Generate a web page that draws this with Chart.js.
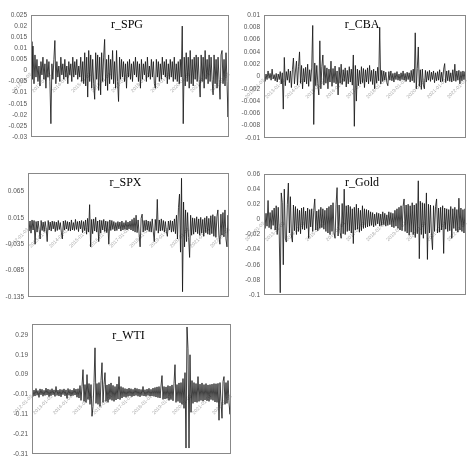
<!DOCTYPE html>
<html>
<head>
<meta charset="utf-8">
<script src="https://cdn.jsdelivr.net/npm/chart.js@4.4.1/dist/chart.umd.min.js"></script>
<style>
  html, body { margin: 0; padding: 0; background: #fff; }
  #page { position: relative; width: 474px; height: 465px; overflow: hidden; }
  .panel { position: absolute; }
</style>
</head>
<body>
<div id="page">
  <div class="panel" id="p-spg"><canvas id="c-spg"></canvas></div>
  <div class="panel" id="p-cba"><canvas id="c-cba"></canvas></div>
  <div class="panel" id="p-spx"><canvas id="c-spx"></canvas></div>
  <div class="panel" id="p-gold"><canvas id="c-gold"></canvas></div>
  <div class="panel" id="p-wti"><canvas id="c-wti"></canvas></div>
</div>
<script>
// date labels along the zero line (yearly)
const dateTicks = ['2012-01-03', '2013-01-02', '2014-01-02', '2015-01-02', '2016-01-04', '2017-01-03',
  '2018-01-02', '2019-01-02', '2020-01-02', '2021-01-04', '2022-01-03'];

// y-axis tick labels per panel
const spgTicks = [0.025, 0.02, 0.015, 0.01, 0.005, 0, -0.005, -0.01, -0.015, -0.02, -0.025, -0.03];
const cbaTicks = [0.01, 0.008, 0.006, 0.004, 0.002, 0, -0.002, -0.004, -0.006, -0.008, -0.01];
const spxTicks = [0.065, 0.015, -0.035, -0.085, -0.135];
const goldTicks = [0.06, 0.04, 0.02, 0, -0.02, -0.04, -0.06, -0.08, -0.1];
const wtiTicks = [0.29, 0.19, 0.09, -0.01, -0.11, -0.21, -0.31];

const rSPG = [
  .013, -.004, .011, -.006, .007, -.003, .005, -.005, .002, -.007, .004, -.002, .006, -.004, .003, -.008, .005, -.003, .004, -.005,
  -.024, .003, -.004, .005, .0135, -.006, .004, -.003, .002, -.005, .006, -.002, .003, -.004, .005, -.003, .002, -.006, .004, -.002,
  .003, -.005, .006, -.003, .004, -.002, .005, -.004, .002, -.003, .006, -.005, .004, -.006, .008, -.007, .006, -.012, .009, -.005,
  .007, -.008, .005, -.006, -.013, .008, -.004, .007, -.009, .006, -.011, .008, -.005, .006, .014, -.007, .005, -.009, .007, -.006,
  .005, -.004, .009, -.006, .004, -.008, .009, -.005, -.014, .006, -.004, .005, -.003, .004, -.005, .003, -.008, .004, -.003, .005,
  -.004, .003, -.005, .004, -.002, .006, -.003, .004, -.005, .003, -.008, .005, -.004, .003, -.002, .004, -.005, .006, -.003, .002,
  -.004, .005, -.003, .004, -.006, -.008, .005, -.003, .004, -.005, .003, -.004, .006, -.002, .004, -.003, .005, -.006, .003, -.004,
  .005, -.003, .004, -.005, .006, -.004, .003, -.005, .004, -.006, .005, -.003, .020, -.024, .006, -.007, .008, -.005, .006, -.008,
  .009, -.006, .005, -.007, .006, -.004, .007, -.005, .006, -.004, -.012, .007, -.005, .006, -.008, .009, -.004, .005, -.006, .007,
  -.005, .006, -.004, -.011, .007, -.006, .005, -.008, .006, -.004, -.013, .007, .009, -.006, .005, -.007, .008, -.005, -.021, .008
];
const rCBA = [
  .0006, -.0008, .0004, -.0005, .0009, -.0003, .0005, -.0006, .0012, -.0004, .0003, -.0007, .0005, -.0009, .0004, -.0005, .0008, -.0012, .0006, -.0053,
  .0031, -.0015, .0008, -.0006, .0012, -.0010, .0009, -.0018, .0011, .0030, -.0012, .0009, .0025, -.0014, .0016, .0040, -.0011, .0018, -.0020, .0013,
  -.0009, .0015, -.0012, .0020, -.0016, .0011, -.0008, .0014, .0083, -.0078, .0022, -.0015, .0018, -.0012, -.0030, .0058, -.0020, .0016, .0035, -.0014,
  .0018, -.0011, .0014, -.0020, .0012, -.0009, .0025, -.0016, .0013, -.0010, .0017, -.0012, .0009, -.0030, .0015, -.0011, .0020, -.0013, .0011, -.0008,
  .0014, -.0017, .0010, -.0012, .0016, -.0009, .0012, -.0014, .0035, -.0081, .0018, -.0040, .0012, -.0015, .0010, -.0012, .0016, -.0010, .0013, -.0018,
  .0011, -.0009, .0014, -.0012, .0018, -.0008, .0010, -.0013, .0012, -.0020, .0009, -.0011, .0015, -.0007, .0080, -.0012, .0010, -.0008, .0009, -.0006,
  .0007, -.0010, -.0015, .0008, -.0006, .0009, -.0007, .0005, -.0009, .0006, -.0005, .0008, -.0006, .0004, -.0007, .0006, -.0005, .0009, -.0006, .0005,
  -.0008, .0007, -.0005, .0006, -.0009, .0010, -.0007, .0012, -.0010, .0071, -.0020, .0013, .0048, -.0016, .0011, -.0021, .0012, -.0014, -.0020, .0010,
  -.0009, .0008, -.0006, .0010, -.0008, .0007, -.0005, .0009, -.0010, .0006, -.0007, .0008, -.0006, .0011, -.0009, .0007, -.0008, .0012, .0021, -.0010,
  .0009, -.0007, .0010, -.0008, .0006, -.0009, .0011, -.0007, .0020, -.0008, .0009, -.0006, .0010, -.0012, .0008, -.0007, .0009, -.0005, .0008, -.0006
];
const rSPX = [
  .012, -.010, .009, -.014, .011, -.008, .010, -.035, .008, -.012, .009, -.007, -.025, .010, -.009, .007, -.011, .008, -.006, -.030,
  .010, -.008, .007, -.010, .009, -.006, .008, -.011, .007, -.009, .010, -.007, .006, -.012, -.025, .009, -.008, .010, -.006, .008,
  -.009, .007, -.010, .011, -.008, .006, -.009, .012, -.007, .008, -.011, .009, -.006, .010, -.013, .008, -.009, .011, -.016, .014,
  -.012, .040, -.040, .012, -.015, .013, -.010, .016, -.012, .009, -.030, .011, -.014, .010, -.008, .012, -.011, .009, -.013, .008,
  -.035, .011, -.009, .010, -.007, .008, -.010, .006, -.009, .008, -.006, .007, -.010, .009, -.008, .006, -.007, .010, -.008, .007,
  -.006, .009, -.008, .012, -.010, .015, -.012, .020, -.013, .011, -.015, -.040, .014, .022, -.012, .010, -.009, .011, -.008, .009,
  -.011, .008, -.012, .013, -.010, -.030, .012, -.009, .050, -.014, .011, -.010, .013, -.009, .010, -.012, .008, -.011, -.020, .009,
  -.008, .010, -.012, .009, -.011, .013, -.015, .020, -.025, .035, .060, -.050, .090, -.125, .045, -.040, .030, -.030, .025, -.022,
  -.060, .020, -.018, .015, -.016, .014, -.012, .017, -.015, .013, -.018, .016, -.014, .012, -.020, .015, -.013, .018, -.016, .014,
  -.017, .019, -.015, .021, -.020, .018, -.022, .017, .030, -.019, -.035, .022, -.018, .025, -.021, .030, -.025, -.040, .020, -.015
];
const rGold = [
  .010, -.012, .008, -.009, .025, -.011, .009, -.013, .012, -.008, .015, -.014, .018, -.020, .016, -.018, -.097, .035, .022, -.060,
  .040, -.025, -.030, .020, .048, -.018, .030, -.022, -.030, .019, -.015, .017, -.020, .014, -.016, .012, -.019, .015, -.013, .016,
  -.014, .011, -.012, .015, -.025, .013, -.010, .014, -.016, .012, .027, -.014, .011, -.015, .013, -.012, .016, -.011, .014, -.013,
  .012, -.016, .015, -.018, .017, -.020, .019, -.016, .022, -.018, -.025, .020, .042, -.022, .019, -.017, -.025, .021, -.019, .040,
  -.020, .018, -.016, .019, -.015, .017, -.018, .014, -.032, .016, -.014, .020, -.013, .015, -.017, .012, -.015, .018, -.012, .014,
  -.011, .013, -.010, .012, -.009, .010, -.008, .009, -.010, .007, -.008, .009, -.006, .008, -.009, .007, -.008, .010, -.007, .008,
  -.009, .006, -.008, .010, -.007, .009, -.010, .008, -.011, .012, -.009, .014, -.012, .016, -.014, .018, -.015, .017, .027, -.016,
  .019, -.018, .020, -.021, .018, -.017, .022, -.020, .019, -.024, .021, -.019, .051, -.052, .024, -.020, .022, -.025, .021, -.019,
  .035, -.053, .020, -.018, .019, -.021, -.040, .018, -.016, .017, .027, -.018, .015, -.017, .016, -.014, .018, -.045, .015, -.013,
  .014, -.016, .013, -.015, .017, -.025, .014, -.012, .016, -.015, .013, -.017, .028, -.014, .015, -.016, .013, -.018, .014, -.012
];
const rWTI = [
  .015, -.020, .012, -.018, .020, -.014, .010, -.025, .018, -.012, .016, -.019, .011, -.015, .022, -.013, .017, -.021, .014, -.016,
  .019, -.012, .013, -.020, .030, -.015, .012, -.018, .016, -.022, .014, -.011, .018, -.017, .013, -.030, .020, -.014, .015, -.019,
  .012, -.016, .021, -.013, .017, -.024, .019, -.028, .035, -.040, .030, .115, -.045, .040, -.050, .090, -.035, .045, -.060, .040,
  -.120, -.070, .050, .225, -.055, .045, -.060, .050, -.070, .060, .150, -.050, .040, .100, -.045, .038, -.050, .042, -.035, .048,
  -.040, .036, -.045, .030, -.038, .042, -.033, .080, -.036, .030, -.028, .025, -.022, .020, -.025, .018, -.020, .022, -.017, .019,
  -.021, .016, -.018, .023, -.015, .020, -.019, .017, -.022, .015, -.016, .030, -.018, .014, -.020, .017, -.015, .021, -.019, .016,
  -.018, .022, -.020, .025, -.023, .028, -.026, .030, -.028, .032, .085, -.035, .030, -.033, .028, -.030, .035, -.040, .032, -.036,
  .038, -.042, .045, .140, -.050, .040, -.045, .048, -.052, .050, -.060, .070, -.080, .100, -.280, .330, .220, -.280, .190, -.100,
  .060, -.055, .050, -.048, .045, -.050, .080, -.045, .042, -.040, .048, -.044, .040, -.038, .045, -.042, .038, -.045, .040, -.036,
  .042, -.040, .045, -.048, .044, -.050, .046, -.140, .050, -.045, -.130, .055, .080, -.060, .050, -.055, .060, -.052, -.110, .045
];

// panel layout: div = [left, top, width, height], box = plot frame [left, top, right, bottom]
const panels = [
  { id: 'spg', title: 'r_SPG', values: rSPG, ticks: spgTicks, min: -0.03, max: 0.025, div: [0, 0, 237, 155], box: [31, 15, 229, 137], titleDy: 10 },
  { id: 'cba', title: 'r_CBA', values: rCBA, ticks: cbaTicks, min: -0.01, max: 0.01, div: [237, 0, 237, 155], box: [264, 15, 466, 138], titleDy: 10 },
  { id: 'spx', title: 'r_SPX', values: rSPX, ticks: spxTicks, min: -0.135, max: 0.10, div: [0, 158, 237, 152], box: [28, 173, 229, 297], titleDy: 10 },
  { id: 'gold', title: 'r_Gold', values: rGold, ticks: goldTicks, min: -0.1, max: 0.06, div: [237, 158, 237, 152], box: [264, 174, 466, 295], titleDy: 9 },
  { id: 'wti', title: 'r_WTI', values: rWTI, ticks: wtiTicks, min: -0.31, max: 0.345, div: [0, 312, 237, 153], box: [32, 324, 231, 454], titleDy: 12 }
];

// frame around the plot area and title drawn inside it
function panelDecor(title, dy) {
    return {
        id: 'panelDecor',
        afterDraw(chart) {
            const { ctx, chartArea: a } = chart;
            ctx.save();
            ctx.strokeStyle = '#888';
            ctx.lineWidth = 1;
            ctx.strokeRect(Math.round(a.left) + 0.5, Math.round(a.top) + 0.5,
                Math.round(a.right - a.left) - 1, Math.round(a.bottom - a.top) - 1);
            ctx.fillStyle = '#000';
            ctx.font = '12px "Liberation Serif", "Times New Roman", serif';
            ctx.textAlign = 'center';
            ctx.textBaseline = 'middle';
            ctx.fillText(title, (a.left + a.right) / 2 - 3, a.top + dy);
            ctx.restore();
        }
    };
}

function makePanel(p) {
    const wrap = document.getElementById('p-' + p.id);
    const [dx, dy, dw, dh] = p.div;
    const [l, t, r, b] = p.box;
    wrap.style.left = dx + 'px';
    wrap.style.top = dy + 'px';
    wrap.style.width = dw + 'px';
    wrap.style.height = dh + 'px';

    const last = p.values.length - 1;
    const points = p.values.map((v, i) => ({ x: i, y: v }));

    return new Chart(document.getElementById('c-' + p.id), {
        type: 'line',
        data: {
            datasets: [{
                data: points,
                borderColor: '#111',
                borderWidth: 0.8,
                pointRadius: 0,
                tension: 0
            }]
        },
        options: {
            responsive: true,
            maintainAspectRatio: false,
            animation: false,
            events: [],
            layout: {
                padding: { left: 0, top: t - dy, right: dx + dw - r, bottom: dy + dh - b }
            },
            plugins: {
                legend: { display: false },
                tooltip: { enabled: false }
            },
            scales: {
                x: {
                    type: 'linear',
                    min: 0,
                    max: last,
                    position: { y: 0 },
                    grid: { display: false, drawTicks: false },
                    border: { display: false },
                    afterBuildTicks: (s) => {
                        s.ticks = dateTicks.map((d, i) => ({ value: i * last / (dateTicks.length - 1) }));
                    },
                    afterFit: (s) => {
                        s.height = 0;
                        s.paddingLeft = 0;
                        s.paddingRight = 0;
                    },
                    ticks: {
                        autoSkip: false,
                        minRotation: 45,
                        maxRotation: 45,
                        padding: 1,
                        color: '#aaa',
                        font: { size: 5, family: '"Liberation Sans", Arial, sans-serif' },
                        callback: (v, i) => dateTicks[i]
                    }
                },
                y: {
                    min: p.min,
                    max: p.max,
                    grid: { display: false, drawTicks: false },
                    border: { display: false },
                    afterBuildTicks: (s) => {
                        s.ticks = p.ticks.map(v => ({ value: v }));
                    },
                    afterFit: (s) => {
                        s.width = l - dx;
                        s.paddingTop = 0;
                        s.paddingBottom = 0;
                    },
                    ticks: {
                        padding: 4,
                        color: '#555',
                        font: { size: 6.5, family: '"Liberation Sans", Arial, sans-serif' },
                        callback: (v) => String(v)
                    }
                }
            }
        },
        plugins: [panelDecor(p.title, p.titleDy)]
    });
}

panels.forEach(makePanel);
</script>
</body>
</html>
